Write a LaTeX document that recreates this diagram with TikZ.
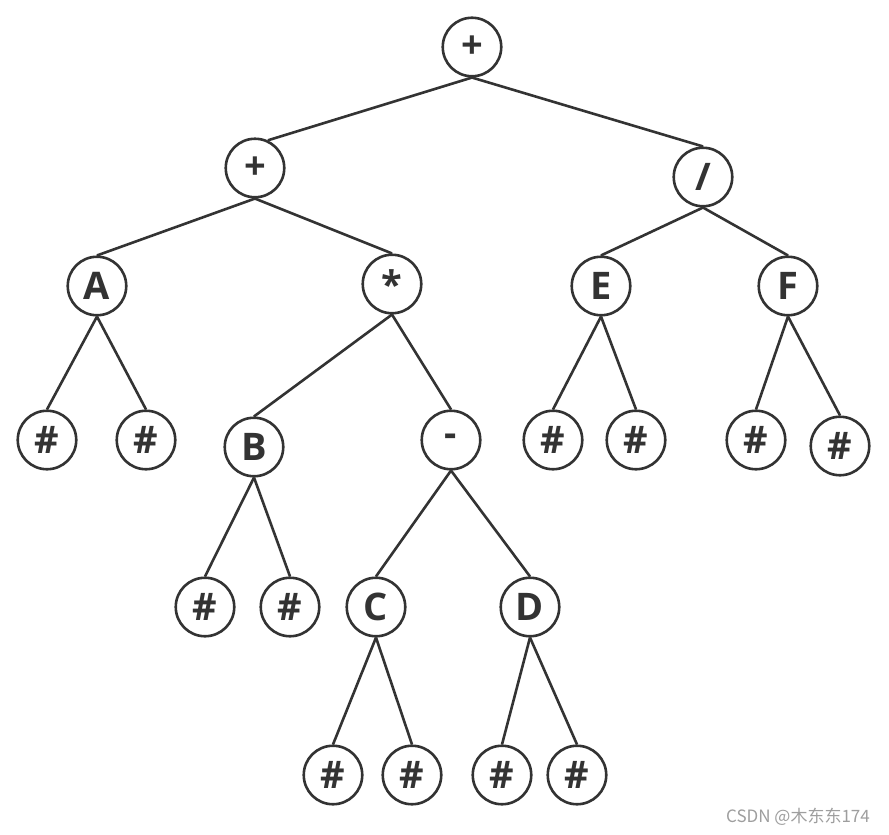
\documentclass[tikz,border=0pt]{standalone}
\usepackage{fontspec}
\setmainfont{Open Sans}
\newfontfamily\cjkfont{Noto Sans CJK SC}
\definecolor{ink}{HTML}{333333}
\begin{document}
\begin{tikzpicture}[x=1pt,y=-1pt,
  nd/.style={circle, draw=ink, line width=2.6pt, minimum size=58.5pt, inner sep=0pt,
    font=\fontsize{38}{38}\selectfont\bfseries, text=ink},
  edge/.style={draw=ink, line width=2.6pt}]
\useasboundingbox[fill=white] (0,0) rectangle (889,835);
\node[nd] (r)  at (472,47)  {+};
\node[nd] (p)  at (255,168) {+};
\node[nd] (s)  at (703,177) {/};
\node[nd] (A)  at (97,286)  {A};
\node[nd] (m)  at (392,284) {*};
\node[nd] (E)  at (601,286) {E};
\node[nd] (F)  at (788,286) {F};
\node[nd] (h1) at (47,440)  {\#};
\node[nd] (h2) at (146,440) {\#};
\node[nd] (B)  at (254,447) {B};
\node[nd] (d)  at (451,440) {-};
\node[nd] (h3) at (553,440) {\#};
\node[nd] (h4) at (636,440) {\#};
\node[nd] (h5) at (756,440) {\#};
\node[nd] (h6) at (840,446) {\#};
\node[nd] (h7) at (205,607) {\#};
\node[nd] (h8) at (290,607) {\#};
\node[nd] (C)  at (376,607) {C};
\node[nd] (D)  at (530,607) {D};
\node[nd] (h9) at (333,775) {\#};
\node[nd] (h10) at (412,775) {\#};
\node[nd] (h11) at (502,775) {\#};
\node[nd] (h12) at (577,775) {\#};
\draw[edge] (r.south) -- (p.65);
\draw[edge] (r.south) -- (s.north);
\draw[edge] (p.south) -- (A.north);
\draw[edge] (p.south) -- (m.north);
\draw[edge] (s.south) -- (E.north);
\draw[edge] (s.south) -- (F.north);
\draw[edge] (A.south) -- (h1.north);
\draw[edge] (A.south) -- (h2.north);
\draw[edge] (m.south) -- (B.north);
\draw[edge] (m.south) -- (d.north);
\draw[edge] (E.south) -- (h3.north);
\draw[edge] (E.south) -- (h4.north);
\draw[edge] (F.south) -- (h5.north);
\draw[edge] (F.south) -- (h6.north);
\draw[edge] (B.south) -- (h7.north);
\draw[edge] (B.south) -- (h8.north);
\draw[edge] (d.south) -- (C.north);
\draw[edge] (d.south) -- (D.north);
\draw[edge] (C.south) -- (h9.north);
\draw[edge] (C.south) -- (h10.north);
\draw[edge] (D.south) -- (h11.north);
\draw[edge] (D.south) -- (h12.north);
\node[font=\cjkfont\fontsize{17}{17}\selectfont, text=black!38] (wm) at (798,817) {CSDN @木东东174};
\end{tikzpicture}
\end{document}
